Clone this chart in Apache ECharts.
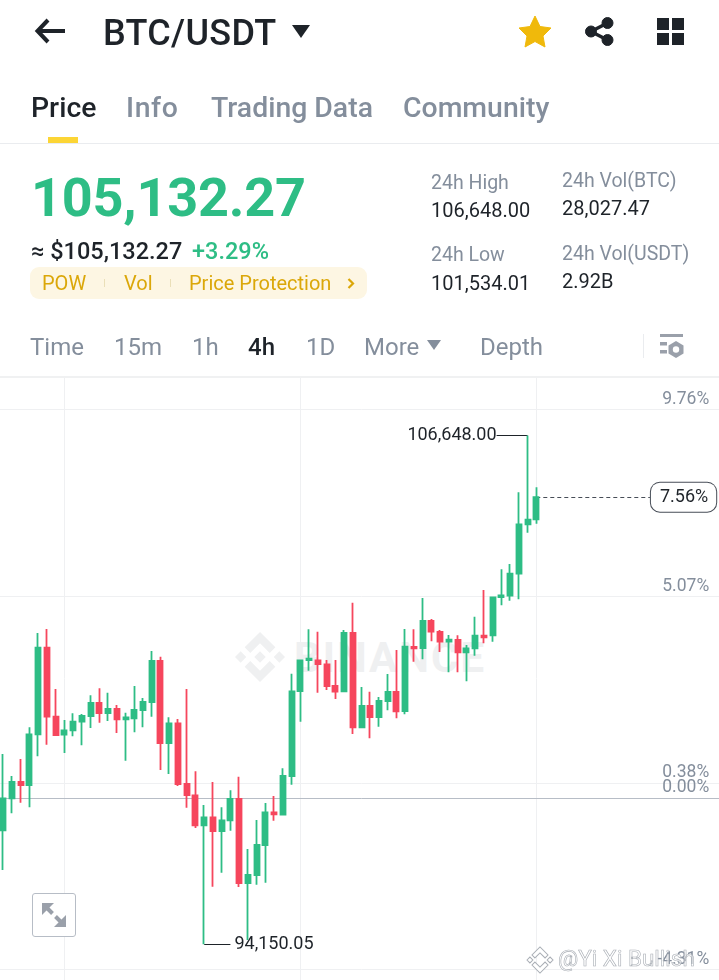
<!DOCTYPE html>
<html>
<head>
<meta charset="utf-8">
<title>BTC/USDT</title>
<script src="https://cdn.jsdelivr.net/npm/echarts@6/dist/echarts.min.js"></script>
<style>
html, body { margin: 0; padding: 0; background: #fff; }
#page { position: relative; width: 719px; height: 980px; overflow: hidden; font-family: Roboto, sans-serif; color: #1e2329; }
#chart { position: absolute; left: -2px; top: 0; width: 728px; height: 980px; }
.t { position: absolute; white-space: nowrap; line-height: 1; }
.grey { color: #848e9c; }
.green { color: #2ebd85; }
.gold { color: #dba709; }
.rule { position: absolute; background: #eaecef; }
svg { position: absolute; overflow: visible; }
</style>
</head>
<body>
<div id="page">
  <!-- watermark under the chart -->
  <svg style="left:235px;top:632px" width="50" height="50" viewBox="0 0 126.61 126.61" fill="#eff0f1">
    <path d="M38.73 53.2l24.59-24.58 24.6 24.6 14.3-14.31L63.32 0 24.43 38.9z"/>
    <path d="M0 63.31l14.3-14.3 14.31 14.3-14.31 14.3z"/>
    <path d="M38.73 73.41L63.32 98l24.6-24.6 14.31 14.29L63.32 126.61 24.41 87.7z"/>
    <path d="M98 63.31l14.3-14.3 14.31 14.3-14.31 14.3z"/>
    <path d="M77.83 63.3L63.32 48.78 52.59 59.51l-1.24 1.23-2.54 2.54 14.51 14.5 14.51-14.47z"/>
  </svg>
  <div class="t" style="left:294px;top:637px;font-size:42px;font-weight:700;letter-spacing:2px;color:#eff0f1">BINANCE</div>

  <div id="chart"></div>

  <!-- top bar -->
  <svg style="left:35px;top:18px" width="30" height="26" viewBox="0 0 30 26" fill="none" stroke="#1e2329" stroke-width="4">
    <path d="M30 13H3M13 2L2.5 13L13 24"/>
  </svg>
  <div class="t" style="left:103px;top:15px;font-size:36px;font-weight:500;letter-spacing:.3px">BTC/USDT</div>
  <svg style="left:292px;top:25px" width="18" height="13" viewBox="0 0 18 13" fill="#1e2329"><path d="M0 0H18L9 13z"/></svg>
  <svg style="left:519px;top:16px" width="32" height="31" viewBox="0 0 32 31" fill="#f0b90b">
    <path d="M16 0L21 10.5L32 12L24 20L26 31L16 25.5L6 31L8 20L0 12L11 10.5z" stroke="#f0b90b" stroke-linejoin="round"/>
  </svg>
  <svg style="left:585px;top:17px" width="29" height="29" viewBox="0 0 29 29" fill="#1e2329" stroke="#1e2329">
    <circle cx="22.5" cy="6" r="5.5"/><circle cx="6" cy="14.5" r="5.5"/><circle cx="22.5" cy="23" r="5.5"/>
    <path d="M22.5 6L6 14.5L22.5 23" fill="none" stroke-width="3.5"/>
  </svg>
  <svg style="left:657px;top:18px" width="27" height="27" viewBox="0 0 27 27" fill="#1e2329">
    <rect width="12" height="12"/><rect x="15" width="12" height="12"/><rect y="15" width="12" height="12"/><rect x="15" y="15" width="12" height="12"/>
  </svg>

  <!-- tabs -->
  <div class="t" style="left:31px;top:94px;font-size:28.4px;font-weight:500">Price</div>
  <div class="t grey" style="left:126px;top:94px;font-size:28.4px;font-weight:500;letter-spacing:.6px">Info</div>
  <div class="t grey" style="left:211px;top:94px;font-size:28.4px;font-weight:500">Trading Data</div>
  <div class="t grey" style="left:403px;top:94px;font-size:28.4px;font-weight:500">Community</div>
  <div style="position:absolute;left:48px;top:137px;width:30px;height:6px;background:#fcd535"></div>
  <div class="rule" style="left:0;top:143px;width:719px;height:1px"></div>

  <!-- price block -->
  <div class="t green" style="left:31px;top:171px;font-size:54px;font-weight:700;letter-spacing:-.2px">105,132.27</div>
  <div class="t" style="left:31px;top:240px;font-size:23.5px;font-weight:500">≈ $105,132.27</div>
  <div class="t green" style="left:192px;top:240px;font-size:23.5px;font-weight:500">+3.29%</div>
  <div style="position:absolute;left:30px;top:267px;width:337px;height:32px;background:#fdf6e3;border-radius:9px"></div>
  <div class="t gold" style="left:42px;top:273px;font-size:20px">POW</div>
  <div class="t gold" style="left:124px;top:273px;font-size:20px">Vol</div>
  <div class="t gold" style="left:189px;top:273px;font-size:20px">Price Protection</div>
  <div style="position:absolute;left:104px;top:279px;width:1px;height:8px;background:#eadfb8"></div>
  <div style="position:absolute;left:170px;top:279px;width:1px;height:8px;background:#eadfb8"></div>
  <svg style="left:347px;top:278px" width="8" height="11" viewBox="0 0 8 11" fill="none" stroke="#dba709" stroke-width="2.2"><path d="M1.5 1L6 5.5L1.5 10"/></svg>

  <!-- 24h stats -->
  <div class="t grey" style="left:431px;top:173px;font-size:19.5px">24h High</div>
  <div class="t" style="left:431px;top:200px;font-size:20px">106,648.00</div>
  <div class="t grey" style="left:562px;top:171px;font-size:19.5px">24h Vol(BTC)</div>
  <div class="t" style="left:562px;top:198px;font-size:20px">28,027.47</div>
  <div class="t grey" style="left:431px;top:245px;font-size:19.5px">24h Low</div>
  <div class="t" style="left:431px;top:273px;font-size:20px">101,534.01</div>
  <div class="t grey" style="left:562px;top:244px;font-size:19.5px">24h Vol(USDT)</div>
  <div class="t" style="left:562px;top:271px;font-size:20px">2.92B</div>

  <!-- interval bar -->
  <div class="t grey" style="left:30px;top:335px;font-size:24px">Time</div>
  <div class="t grey" style="left:114px;top:335px;font-size:24px">15m</div>
  <div class="t grey" style="left:192px;top:335px;font-size:24px">1h</div>
  <div class="t" style="left:248px;top:335px;font-size:24px;font-weight:500">4h</div>
  <div class="t grey" style="left:306px;top:335px;font-size:24px">1D</div>
  <div class="t grey" style="left:364px;top:335px;font-size:24px">More</div>
  <svg style="left:427px;top:340px" width="14" height="10" viewBox="0 0 14 10" fill="#848e9c"><path d="M0 0H14L7 10z"/></svg>
  <div class="t grey" style="left:480px;top:335px;font-size:24px">Depth</div>
  <div class="rule" style="left:643px;top:334px;width:1px;height:24px"></div>
  <svg style="left:660px;top:334px" width="24" height="24" viewBox="0 0 24 24" fill="#9aa0aa">
    <rect width="23" height="3"/><rect y="8" width="7" height="3.5"/><rect y="16" width="7" height="3.5"/>
    <path d="M16 7L23.5 11.5V19.5L16 24L8.5 19.5V11.5z"/><circle cx="16" cy="15.5" r="3.2" fill="#fff"/>
  </svg>
  <div class="rule" style="left:0;top:376px;width:719px;height:2px;background:#f0f1f2"></div>

  <!-- expand button -->
  <div style="position:absolute;left:32px;top:893px;width:42px;height:42px;border:1.5px solid #b7bdc6;border-radius:3px;background:#fff"></div>
  <svg style="left:42px;top:903px" width="24" height="24" viewBox="0 0 24 24" fill="#9aa0aa" stroke="none">
    <path d="M0 0H12L0 12z"/><path d="M24 24H12L24 12z"/>
    <path d="M4 4L10.5 10.5M13.5 13.5L20 20" stroke="#9aa0aa" stroke-width="4" fill="none"/>
  </svg>

  <!-- repost watermark -->
  <svg style="left:527px;top:947px" width="26" height="26" viewBox="0 0 126.61 126.61" fill="#fff" stroke="#a9aeb5" stroke-width="5">
    <path d="M38.73 53.2l24.59-24.58 24.6 24.6 14.3-14.31L63.32 0 24.43 38.9z"/>
    <path d="M0 63.31l14.3-14.3 14.31 14.3-14.31 14.3z"/>
    <path d="M38.73 73.41L63.32 98l24.6-24.6 14.31 14.29L63.32 126.61 24.41 87.7z"/>
    <path d="M98 63.31l14.3-14.3 14.31 14.3-14.31 14.3z"/>
  </svg>
  <div class="t" style="left:558px;top:947px;font-size:22.5px;color:rgba(255,255,255,.55);-webkit-text-stroke:.6px #a9aeb5">@Yi Xi Bullish</div>
</div>

<script>
// candles, oldest first, 4h bars
var opens = [96951,97737,98138,98064,99309,101437,99743,99300,99407,99620,99759,100078,99833,99931,99677,99702,99906,100103,101110,99096,99579,98089,97810,97074,97270,96934,97196,97720,95657,95854,96591,97393,97336,98285,100373,101134,101126,101028,100496,100365,101797,99481,100005,99734,100127,100348,99882,101454,101429,102092,101822,101585,101626,101323,101421,101732,101740,102682,102714,103255,104466,104589];
var closes = [97737,98138,98064,99309,101437,99743,99292,99407,99620,99759,100078,99833,99931,99677,99726,99906,100103,101110,99096,99579,98089,97819,97074,97270,96934,97196,97720,95657,95854,96591,97393,97344,98285,100365,101126,101167,101036,100496,100357,101797,99481,100005,99734,100127,100348,99874,101462,101421,102092,101830,101585,101634,101323,101421,101732,101691,102674,102723,103255,104466,104581,105132];
var lows = [95977,97368,97630,97516,98768,99055,99292,98850,99260,99038,99464,99595,99636,99341,98662,99358,99481,99743,98433,98334,98040,97508,97008,94150,95567,95911,96943,95559,94257,95616,95665,97188,97319,98072,99620,100872,100332,100398,100176,100365,99317,99472,99210,99497,99898,99702,99800,101093,101151,101593,101331,100832,100832,100610,101241,101544,101585,102477,102592,102624,104262,104483];
var highs = [98826,98285,98703,99481,101797,101896,100422,99661,99824,99808,100267,100438,100332,100029,99841,100496,100201,101355,101216,99726,99685,100422,98400,97573,98138,97516,97933,98269,96492,97205,97622,97794,98474,100799,101126,101888,101830,101134,101134,101871,102543,100471,100357,100226,100790,101380,101896,101888,102657,102141,101871,101748,101740,101503,102199,102854,102690,103361,103492,105252,106648,105375];

// right hand percent scale
var tickPrices = [107283, 102699, 98114, 97743, 93533];
var tickLabels = ["9.76%", "5.07%", "0.38%", "0.00%", "-4.31%"];
var basePrice = 97743;
var lastPrice = 105132.27;
var lastLabel = "7.56%";
var highPrice = 106648;
var highLabel = "106,648.00";
var lowPrice = 94150.05;
var lowLabel = "94,150.05";
var gridBars = [7, 34, 61];
var slots = 83; // bars plus the empty room on the right

var categories = [];
for (var i = 0; i < slots; i++) {
    categories.push(String(i));
}
var candles = opens.map(function(o, idx) {
    return [o, closes[idx], lows[idx], highs[idx]];
});

var chart = echarts.init(document.getElementById("chart"), null, { renderer: "canvas" });
chart.setOption({
    animation: false,
    backgroundColor: "transparent",
    textStyle: { fontFamily: "Roboto, sans-serif" },
    // the div hangs over both page edges, the first and last bands are cut by the window
    grid: { left: 0.8, right: 1.8, top: 377, bottom: 0 },
    xAxis: {
        type: "category",
        data: categories,
        axisLine: { show: false },
        axisTick: { show: false },
        axisLabel: { show: false },
        splitLine: {
            show: true,
            alignWithLabel: true,
            interval: function(idx) {
                return gridBars.indexOf(idx) >= 0;
            },
            lineStyle: { color: "#eff0f2", width: 1 }
        }
    },
    yAxis: {
        type: "value",
        position: "right",
        min: 93275,
        max: 108085,
        axisLine: { show: false },
        axisTick: { show: false, customValues: tickPrices },
        axisLabel: {
            inside: true,
            margin: 15,
            customValues: tickPrices,
            color: "#848e9c",
            fontSize: 17.5,
            verticalAlign: "bottom",
            padding: [0, 0, 1, 0],
            formatter: function(v) {
                return tickLabels[tickPrices.indexOf(v)];
            }
        },
        splitLine: { show: true, lineStyle: { color: "#eff0f2", width: 1 } }
    },
    series: [
        {
            type: "candlestick",
            data: candles,
            barWidth: 5.5,
            silent: true,
            itemStyle: {
                color: "#2ebd85",
                color0: "#f6465d",
                borderColor: "#2ebd85",
                borderColor0: "#f6465d",
                borderWidth: 1.8
            },
            markLine: {
                silent: true,
                animation: false,
                symbol: "none",
                z: 1,
                data: [
                    {
                        yAxis: basePrice,
                        label: { show: false },
                        lineStyle: { color: "#b7bdc6", type: "solid", width: 1 }
                    },
                    [
                        {
                            xAxis: 61,
                            yAxis: lastPrice,
                            lineStyle: { color: "#474d57", type: [4, 3], width: 1 },
                            label: {
                                show: true,
                                position: "end",
                                distance: 1,
                                formatter: lastLabel,
                                color: "#1e2329",
                                fontSize: 18,
                                backgroundColor: "#fff",
                                borderColor: "#474d57",
                                borderWidth: 1,
                                borderRadius: 9,
                                padding: [6, 8, 5, 9]
                            }
                        },
                        { xAxis: 74, yAxis: lastPrice }
                    ],
                    [
                        {
                            xAxis: 56,
                            yAxis: highPrice,
                            lineStyle: { color: "#1e2329", type: "solid", width: 1 },
                            label: {
                                show: true,
                                position: "start",
                                distance: -4,
                                formatter: highLabel,
                                color: "#1e2329",
                                fontSize: 18,
                                backgroundColor: "#fff"
                            }
                        },
                        { xAxis: 60, yAxis: highPrice }
                    ],
                    [
                        {
                            xAxis: 23,
                            yAxis: lowPrice,
                            lineStyle: { color: "#1e2329", type: "solid", width: 1 },
                            label: {
                                show: true,
                                position: "end",
                                distance: 4,
                                formatter: lowLabel,
                                color: "#1e2329",
                                fontSize: 18
                            }
                        },
                        { xAxis: 26, yAxis: lowPrice }
                    ]
                ]
            }
        }
    ]
});
</script>
</body>
</html>
